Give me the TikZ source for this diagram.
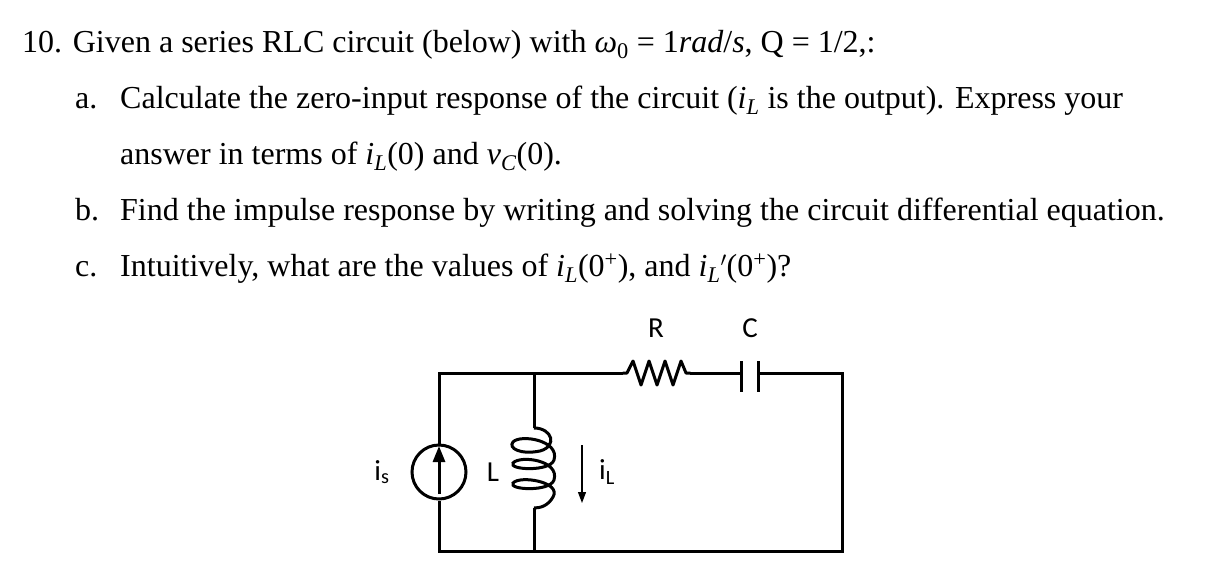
\documentclass[tikz,border=0pt]{standalone}
\usepackage{fontspec}
\setmainfont{Liberation Serif}
\newfontfamily\lblfont{Carlito}
\usetikzlibrary{arrows.meta}
\newcommand{\myiL}{\textit{i}\textsubscript{\textit{L}}}
\begin{document}
\begin{tikzpicture}[x=1pt,y=-1pt,
  txt/.style={anchor=base west,inner sep=0pt,font=\fontsize{32}{36}\selectfont},
  lbl/.style={inner sep=0pt,font=\lblfont\fontsize{29}{32}\selectfont},
  wire/.style={line width=3pt}]
\useasboundingbox (0,0) rectangle (1226,574);
\node[txt] (l1) at (22,52) {10. Given a series RLC circuit (below) with \textit{ω}\textsubscript{0} = 1\textit{rad}/\textit{s}, Q = 1/2,:};
\node[txt] (la) at (75,108) {a.};
\node[txt] (ta) at (120,108) {Calculate the zero-input response of the circuit (\myiL{} is the output). Express your};
\node[txt] (tb2) at (120,164) {answer in terms of \myiL(0) and \textit{v}\textsubscript{\textit{C}}(0).};
\node[txt] (lb) at (75,220) {b.};
\node[txt] (tb) at (120,220) {Find the impulse response by writing and solving the circuit differential equation.};
\node[txt] (lc) at (75,276) {c.};
\node[txt] (tc) at (120,276) {Intuitively, what are the values of \myiL(0\textsuperscript{+}), and \myiL$'$(0\textsuperscript{+})?};
% circuit
\coordinate (tl) at (439,373);
\coordinate (bl) at (439,551);
\coordinate (tm) at (534,373);
\coordinate (bm) at (534,551);
\coordinate (tr) at (842,373);
\coordinate (br) at (842,551);
\node[circle,draw,line width=3pt,minimum size=54pt,inner sep=0pt] (src) at (439,472) {};
\coordinate (r1) at (623,373);
\coordinate (r2) at (690,373);
\coordinate (c1) at (741,373);
\coordinate (c2) at (758,373);
\coordinate (lt) at (534,428);
\coordinate (lb2) at (534,508);
\draw[wire] (src.north) -- (tl) -- (r1);
\draw[wire,line join=round,line cap=round] (r1) -- (627,373) -- (633,361) -- (641,385) -- (649,361) -- (657,385) -- (665,361) -- (673,385) -- (681,361) -- (686,373) -- (r2);
\draw[wire] (r2) -- (c1);
\draw[wire] (741,361) -- (741,392);
\draw[wire] (758,361) -- (758,392);
\draw[wire] (c2) -- (tr) -- (br) -- (bl) -- (src.south);
\draw[wire] (tm) -- (lt);
\draw[wire] (bm) -- (lb2);
\draw[wire] (lt) .. controls (552,428) and (558,446) .. (540,451)
  .. controls (520,455) and (508,448) .. (513,442) .. controls (520,434) and (560,440) .. (554,460)
  .. controls (550,472) and (508,470) .. (513,463) .. controls (520,455) and (560,460) .. (554,480)
  .. controls (550,492) and (508,490) .. (513,483) .. controls (520,475) and (562,482) .. (553,497)
  .. controls (548,506) and (540,508) .. (lb2);
\draw[wire,-{Triangle[length=16pt,width=12pt]}] (439,494) -- (439,446);
\draw[line width=1.2pt,-{Triangle[length=11pt,width=8pt]}] (582,445) -- (582,503);
\node[lbl] (is) at (382,472) {i\textsubscript{s}};
\node[lbl] (L) at (493,472) {L};
\node[lbl] (iL) at (607,472) {i\textsubscript{L}};
\node[lbl] (R) at (656,328) {R};
\node[lbl] (C) at (750,328) {C};
\end{tikzpicture}
\end{document}
